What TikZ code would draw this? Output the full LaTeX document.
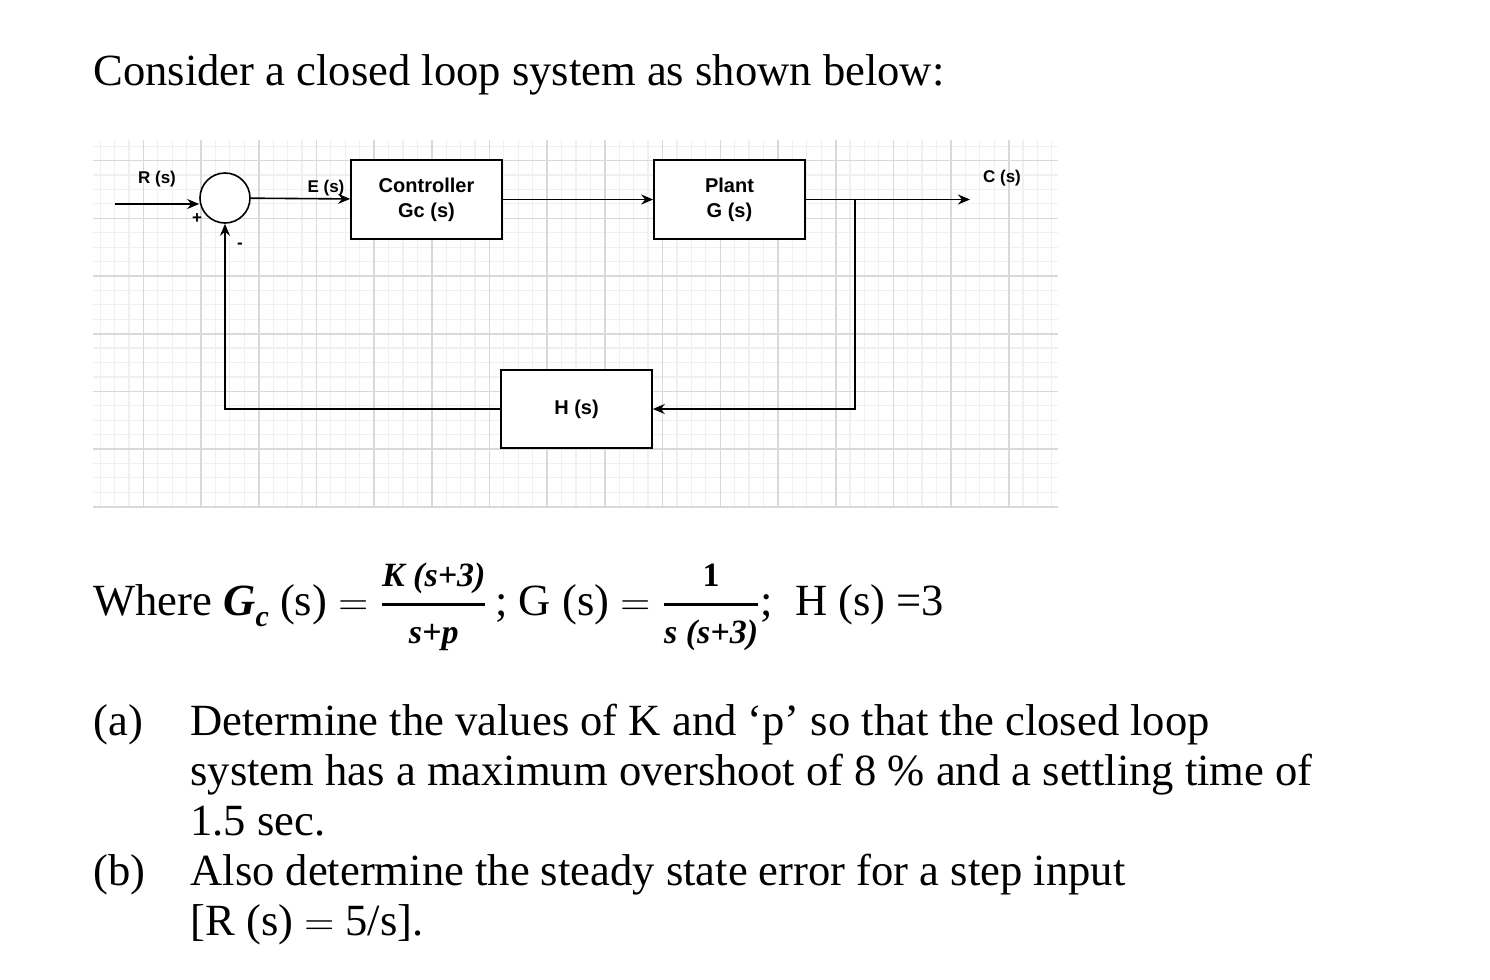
\documentclass[tikz,border=0pt]{standalone}
\usepackage{amsmath}
\usepackage{fontspec}
\setmainfont{Liberation Serif}
\newfontfamily\blockfont{Liberation Sans}
\usetikzlibrary{arrows.meta,positioning}

\newcommand{\fracpart}[1]{\text{\fontsize{17}{17}\selectfont\bfseries #1}}
\newcommand{\boldfrac}[2]{\genfrac{}{}{1.2pt}{0}{#1}{#2}}

\tikzset{
  gridminor/.style={draw=black!6, line width=0.6pt},
  gridmajor/.style={draw=black!15, line width=0.8pt},
  block/.style={draw, line width=0.8pt, fill=white, minimum width=75.5pt, minimum height=39.5pt,
    font=\blockfont\bfseries\fontsize{10}{12.5}\selectfont, align=center},
  sumpt/.style={draw, circle, line width=0.8pt, fill=white, minimum size=25pt, inner sep=0pt},
  sig/.style={line width=0.8pt},
  sigarrow/.style={sig, -{Stealth[length=6pt,width=5pt]}},
  sigtext/.style={font=\blockfont\bfseries\fontsize{8.5}{10}\selectfont, inner sep=0pt},
  body/.style={font=\fontsize{22.3}{26}\selectfont, anchor=base west, inner sep=0pt},
}

\begin{document}
\begin{tikzpicture}[x=0.5pt, y=-0.5pt]
  \useasboundingbox (0,0) rectangle (1490,980);
  \fill[white] (0,0) rectangle (1490,980);

  % grid behind the diagram
  \foreach \i in {0,...,66}
    \draw[gridminor] ({100.1+14.42*\i},140) -- ({100.1+14.42*\i},508);
  \foreach \j in {0,...,25}
    \draw[gridminor] (93,{146.2+14.42*\j}) -- (1058,{146.2+14.42*\j});
  \foreach \i in {0,...,15}
    \draw[gridmajor] ({143.3+57.7*\i},140) -- ({143.3+57.7*\i},508);
  \foreach \j in {0,...,6}
    \draw[gridmajor] (93,{160.6+57.7*\j}) -- (1058,{160.6+57.7*\j});

  % blocks
  \node[sumpt] (sum) at (225,198) {};
  \node[block] (ctrl) at (426.5,199.5) {Controller\\Gc (s)};
  \node[block] (plant) at (729.5,199.5) {Plant\\G (s)};
  \node[block, minimum height=39pt] (hblk) at (576.5,409) {H (s)};

  \coordinate (rin) at (115,204);
  \coordinate (cout) at (970,199);
  \coordinate (tap) at (855,0);

  % signals
  \draw[sigarrow] (rin) -- (rin -| sum.west);
  \draw[sigarrow] (sum) -- (ctrl);
  \draw[sigarrow] (ctrl) -- (plant);
  \draw[sigarrow] (plant.east) -- (plant.east -| cout);
  \draw[sigarrow] (plant.east -| tap) |- (hblk.east);
  \draw[sigarrow] (hblk.west) -| (sum.south);

  \node[sigtext] (rlab) at (157,179) {R (s)};
  \node[sigtext] (elab) at (326,188) {E (s)};
  \node[sigtext] (clab) at (1002,178) {C (s)};
  \node[sigtext] (plus) at (197,219) {+};
  \node[sigtext] (minus) at (240,246) {-};

  % text
  \node[body] (title) at (93,85) {Consider a closed loop system as shown below:};
  \node[body] (where) at (93,615) {Where \textbf{\textit{G\raisebox{-0.25em}{\fontsize{15}{15}\selectfont c}}} (s)
    $=\boldfrac{\fracpart{\itshape K (s+3)}}{\fracpart{\itshape s+p}}$\,; G (s)
    $=\boldfrac{\fracpart{1}}{\fracpart{\itshape s (s+3)}}$;\ \ H (s) =3};

  \node[body] (qa) at (93,735) {(a)};
  \node[body] (qa1) at (190,735) {Determine the values of K and ‘p’ so that the closed loop};
  \node[body] (qa2) at (190,785) {system has a maximum overshoot of 8 \% and a settling time of};
  \node[body] (qa3) at (190,835) {1.5 sec.};
  \node[body] (qb) at (93,885) {(b)};
  \node[body] (qb1) at (190,885) {Also determine the steady state error for a step input};
  \node[body] (qb2) at (190,935) {[R (s) $=$ 5/s].};
\end{tikzpicture}
\end{document}
